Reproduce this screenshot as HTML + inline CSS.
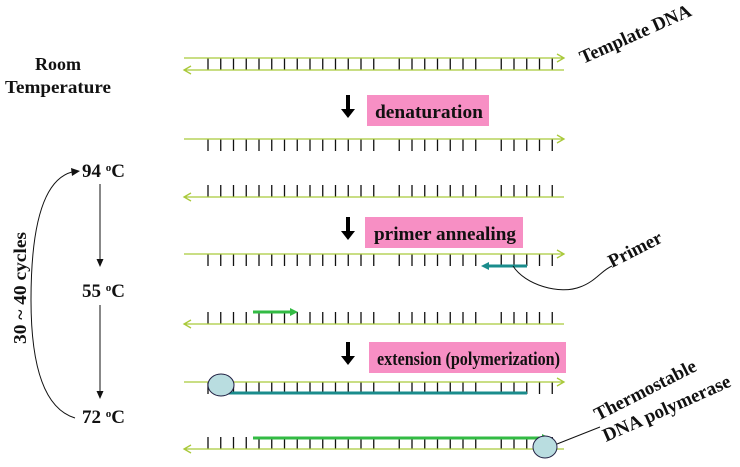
<!DOCTYPE html>
<html><head><meta charset="utf-8"><style>
html,body{margin:0;padding:0;background:#fff;}
svg{display:block;}
text{font-family:"Liberation Serif",serif;font-weight:bold;fill:#111;}
</style></head><body>
<svg width="740" height="467" viewBox="0 0 740 467" xmlns="http://www.w3.org/2000/svg">
<defs>
<path id="t" d="M208 0v12M220.75 0v12M233.5 0v12M246.25 0v12M259 0v12M271.75 0v12M284.5 0v12M297.25 0v12M310 0v12M322.75 0v12M335.5 0v12M348.25 0v12M361 0v12M373.75 0v12M399.25 0v12M412 0v12M424.75 0v12M437.5 0v12M450.25 0v12M463 0v12M475.75 0v12M501.25 0v12M514 0v12M526.75 0v12M539.5 0v12M552.25 0v12" stroke="#111" stroke-width="1.3" fill="none"/>
<path id="lr" d="M184 0H564M557 -4L564 0L557 4" stroke="#a9c93a" stroke-width="1.3" fill="none"/>
<path id="ll" d="M184 0H564M191 -4L184 0L191 4" stroke="#a9c93a" stroke-width="1.3" fill="none"/>
</defs>
<use href="#t" y="58"/>
<use href="#lr" y="58"/>
<use href="#ll" y="70"/>
<use href="#t" y="139"/><use href="#lr" y="139"/>
<use href="#t" y="185"/><use href="#ll" y="197"/>
<use href="#t" y="254"/><use href="#lr" y="254"/>
<use href="#t" y="312"/><use href="#ll" y="324"/>
<use href="#t" y="382"/><use href="#lr" y="382"/>
<use href="#t" y="437"/><use href="#ll" y="449"/>

<rect x="367" y="95" width="122" height="31" fill="#f78fc4"/>
<text x="375" y="118" font-size="19" textLength="108" lengthAdjust="spacingAndGlyphs">denaturation</text>
<rect x="365" y="217" width="158" height="31" fill="#f78fc4"/>
<text x="374" y="240" font-size="19" textLength="142" lengthAdjust="spacingAndGlyphs">primer annealing</text>
<rect x="369" y="342" width="197" height="31" fill="#f78fc4"/>
<text x="377" y="365" font-size="19" textLength="183" lengthAdjust="spacingAndGlyphs">extension (polymerization)</text>

<g fill="#000">
<path d="M346 95h4v14h5l-7 9l-7 -9h5z"/>
<path d="M346 217h4v14h5l-7 9l-7 -9h5z"/>
<path d="M346 342h4v14h5l-7 9l-7 -9h5z"/>
</g>

<path d="M527 266H486" stroke="#1a8c8c" stroke-width="3"/>
<path d="M481 266l8 -4v8z" fill="#1a8c8c"/>
<path d="M253 312H291" stroke="#33bb44" stroke-width="3"/>
<path d="M298 312l-8 -4v8z" fill="#33bb44"/>
<path d="M513 266C525 285 560 295 580 287C595 282 602 270 612 266" stroke="#111" stroke-width="1" fill="none"/>

<path d="M221 393H527" stroke="#1a8c8c" stroke-width="3"/>
<path d="M253 438H545" stroke="#33bb44" stroke-width="3"/>
<path d="M550 438l-8 -4v8z" fill="#33bb44"/>
<ellipse cx="221" cy="385" rx="13" ry="11" fill="#b9dde0" stroke="#224" stroke-width="1"/>
<ellipse cx="545" cy="447" rx="12" ry="11" fill="#b9dde0" stroke="#224" stroke-width="1"/>
<path d="M557 444L600 427" stroke="#111" stroke-width="1"/>

<text font-size="19" transform="translate(583,64) rotate(-24)" textLength="120" lengthAdjust="spacingAndGlyphs">Template DNA</text>
<text font-size="19" transform="translate(612,268) rotate(-27)" textLength="58" lengthAdjust="spacingAndGlyphs">Primer</text>
<text font-size="19" transform="translate(598,421) rotate(-27)" textLength="112" lengthAdjust="spacingAndGlyphs">Thermostable</text>
<text font-size="19" transform="translate(606,442) rotate(-24)" textLength="138" lengthAdjust="spacingAndGlyphs">DNA polymerase</text>

<text x="58" y="70" font-size="18" text-anchor="middle">Room</text>
<text x="58" y="93" font-size="18" text-anchor="middle" textLength="106" lengthAdjust="spacingAndGlyphs">Temperature</text>
<text x="82" y="177" font-size="19">94 <tspan font-size="11" dy="-6">o</tspan><tspan dy="6">C</tspan></text>
<text x="82" y="297" font-size="19">55 <tspan font-size="11" dy="-6">o</tspan><tspan dy="6">C</tspan></text>
<text x="82" y="423" font-size="19">72 <tspan font-size="11" dy="-6">o</tspan><tspan dy="6">C</tspan></text>
<path d="M100 184V260" stroke="#111" stroke-width="1"/>
<path d="M96.5 259l3.5 8l3.5 -8z" fill="#111"/>
<path d="M100 305V392" stroke="#111" stroke-width="1"/>
<path d="M96.5 391l3.5 8l3.5 -8z" fill="#111"/>
<path d="M75 418C42 408 31 360 31 300C31 230 42 180 72 172" stroke="#111" stroke-width="1" fill="none"/>
<path d="M71 168l9 3l-8 5z" fill="#111"/>
<text font-size="18" text-anchor="middle" transform="translate(26,288) rotate(-90)" textLength="112" lengthAdjust="spacingAndGlyphs">30 ~ 40 cycles</text>
</svg>
</body></html>
